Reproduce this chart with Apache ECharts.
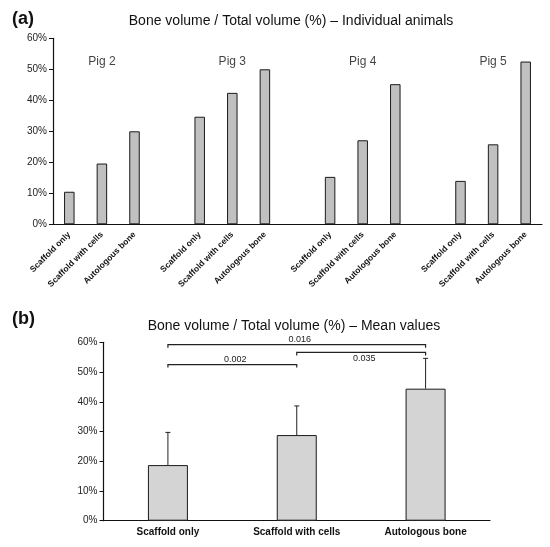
<!DOCTYPE html>
<html>
<head>
<meta charset="utf-8">
<script src="https://cdn.jsdelivr.net/npm/echarts@6/dist/echarts.min.js"></script>
<style>
html,body{margin:0;padding:0;background:#fff;}
#c{width:550px;height:547px;}
</style>
</head>
<body>
<div id="c"></div>
<script>
// ---- data ----
const treatments = ['Scaffold only', 'Scaffold with cells', 'Autologous bone'];
const pigNames = ['Pig 2', 'Pig 3', 'Pig 4', 'Pig 5'];
const pig2 = [10.5, 19.6, 30.0];
const pig3 = [34.7, 42.4, 50.0];
const pig4 = [15.3, 27.1, 45.2];
const pig5 = [14.0, 25.8, 52.5];
const pigLabelLevel = 52.5;
const meanValues = [18.7, 28.8, 44.4];
const errorValues = [11.0, 9.8, 10.2];
const comparisons = [   // [fromIndex, toIndex, level]
  [0, 1, 52.5],
  [0, 2, 59.2],
  [1, 2, 56.6]
];
const pValues = ['0.002', '0.016', '0.035'];
const pLabelBelow = [false, false, true];
const yTicks = [0, 10, 20, 30, 40, 50, 60];

// ---- build top chart categories (3 bars + 1 gap per pig) ----
const pigData = [pig2, pig3, pig4, pig5];
const topCats = [];
const topVals = [];
const pigLabelPts = [];
pigData.forEach((arr, g) => {
  arr.forEach((v, i) => { topCats.push(treatments[i]); topVals.push(v); });
  pigLabelPts.push([topCats.length - 2, pigLabelLevel, pigNames[g]]);
  if (g < pigData.length - 1) { topCats.push(''); topVals.push(null); }
});

const FONT = 'Liberation Sans, Arial, sans-serif';
const chart = echarts.init(document.getElementById('c'));

const yAxisCommon = {
  type: 'value', min: yTicks[0], max: yTicks[yTicks.length - 1], interval: 10,
  axisLine: {show: true, lineStyle: {color: '#111', width: 1.2}},
  axisTick: {show: true, length: 4, lineStyle: {color: '#111'}},
  splitLine: {show: false},
  axisLabel: {formatter: '{value}%', color: '#222', fontFamily: FONT, fontSize: 10, margin: 6}
};

chart.setOption({
  animation: false,
  backgroundColor: '#fff',
  title: [
    {text: '(a)', left: 7, top: 5, textStyle: {fontFamily: FONT, fontSize: 18, fontWeight: 'bold', color: '#111'}},
    {text: 'Bone volume / Total volume (%) \u2013 Individual animals', left: 286, top: 9, textAlign: 'center',
     textStyle: {fontFamily: FONT, fontSize: 14, fontWeight: 'normal', color: '#111'}},
    {text: '(b)', left: 7, top: 305, textStyle: {fontFamily: FONT, fontSize: 18, fontWeight: 'bold', color: '#111'}},
    {text: 'Bone volume / Total volume (%) \u2013 Mean values', left: 289, top: 314, textAlign: 'center',
     textStyle: {fontFamily: FONT, fontSize: 14, fontWeight: 'normal', color: '#111'}}
  ],
  grid: [
    {left: 53, right: 8, top: 38.3, bottom: 322.7, containLabel: false},
    {left: 103.5, right: 60, top: 342.3, bottom: 26.3, containLabel: false}
  ],
  xAxis: [
    {type: 'category', gridIndex: 0, data: topCats,
     axisLine: {lineStyle: {color: '#111', width: 1.2}},
     axisTick: {show: false},
     axisLabel: {interval: 0, rotate: 45, fontFamily: FONT, fontSize: 8.5, fontWeight: 'bold', color: '#111', margin: 9}},
    {type: 'category', gridIndex: 1, data: treatments,
     axisLine: {lineStyle: {color: '#111', width: 1.2}},
     axisTick: {show: false},
     axisLabel: {interval: 0, fontFamily: FONT, fontSize: 10, fontWeight: 'bold', color: '#111', margin: 7}}
  ],
  yAxis: [
    Object.assign({gridIndex: 0}, yAxisCommon),
    Object.assign({gridIndex: 1}, yAxisCommon)
  ],
  series: [
    {type: 'bar', xAxisIndex: 0, yAxisIndex: 0, data: topVals, barWidth: 10.5,
     itemStyle: {color: '#c0c0c0', borderColor: '#1a1a1a', borderWidth: 1}},
    {type: 'scatter', xAxisIndex: 0, yAxisIndex: 0, symbolSize: 0, data: pigLabelPts,
     label: {show: true, position: 'inside', formatter: p => p.data[2], fontFamily: FONT, fontSize: 12, color: '#111'}},
    {type: 'bar', xAxisIndex: 1, yAxisIndex: 1, data: meanValues, barWidth: 40, z: 2,
     itemStyle: {color: '#d4d4d4', borderColor: '#1a1a1a', borderWidth: 1}},
    {type: 'custom', xAxisIndex: 1, yAxisIndex: 1, z: 1,
     data: meanValues.map((v, i) => [i, v, v + errorValues[i]]),
     renderItem: function (params, api) {
       const b = api.coord([api.value(0), api.value(1)]);
       const t = api.coord([api.value(0), api.value(2)]);
       return {type: 'group', children: [
         {type: 'line', shape: {x1: b[0], y1: b[1], x2: t[0], y2: t[1]}, style: {stroke: '#222', lineWidth: 1}},
         {type: 'line', shape: {x1: t[0] - 2.5, y1: t[1], x2: t[0] + 2.5, y2: t[1]}, style: {stroke: '#222', lineWidth: 1}}
       ]};
     }},
    {type: 'custom', xAxisIndex: 1, yAxisIndex: 1, z: 3,
     data: comparisons,
     renderItem: function (params, api) {
       const a = api.coord([api.value(0), api.value(2)]);
       const b = api.coord([api.value(1), api.value(2)]);
       const i = params.dataIndex;
       const below = pLabelBelow[i];
       const tick = 3;
       return {type: 'group', children: [
         {type: 'polyline', shape: {points: [[a[0], a[1] + tick], [a[0], a[1]], [b[0], b[1]], [b[0], b[1] + tick]]},
          style: {stroke: '#222', lineWidth: 1.2, fill: null}},
         {type: 'text', style: {text: pValues[i], x: (a[0] + b[0]) / 2 + 3, y: below ? a[1] + 2 : a[1] - 1,
           textAlign: 'center', textVerticalAlign: below ? 'top' : 'bottom',
           fontFamily: FONT, fontSize: 9, fill: '#222'}}
       ]};
     }}
  ]
});
</script>
</body>
</html>
